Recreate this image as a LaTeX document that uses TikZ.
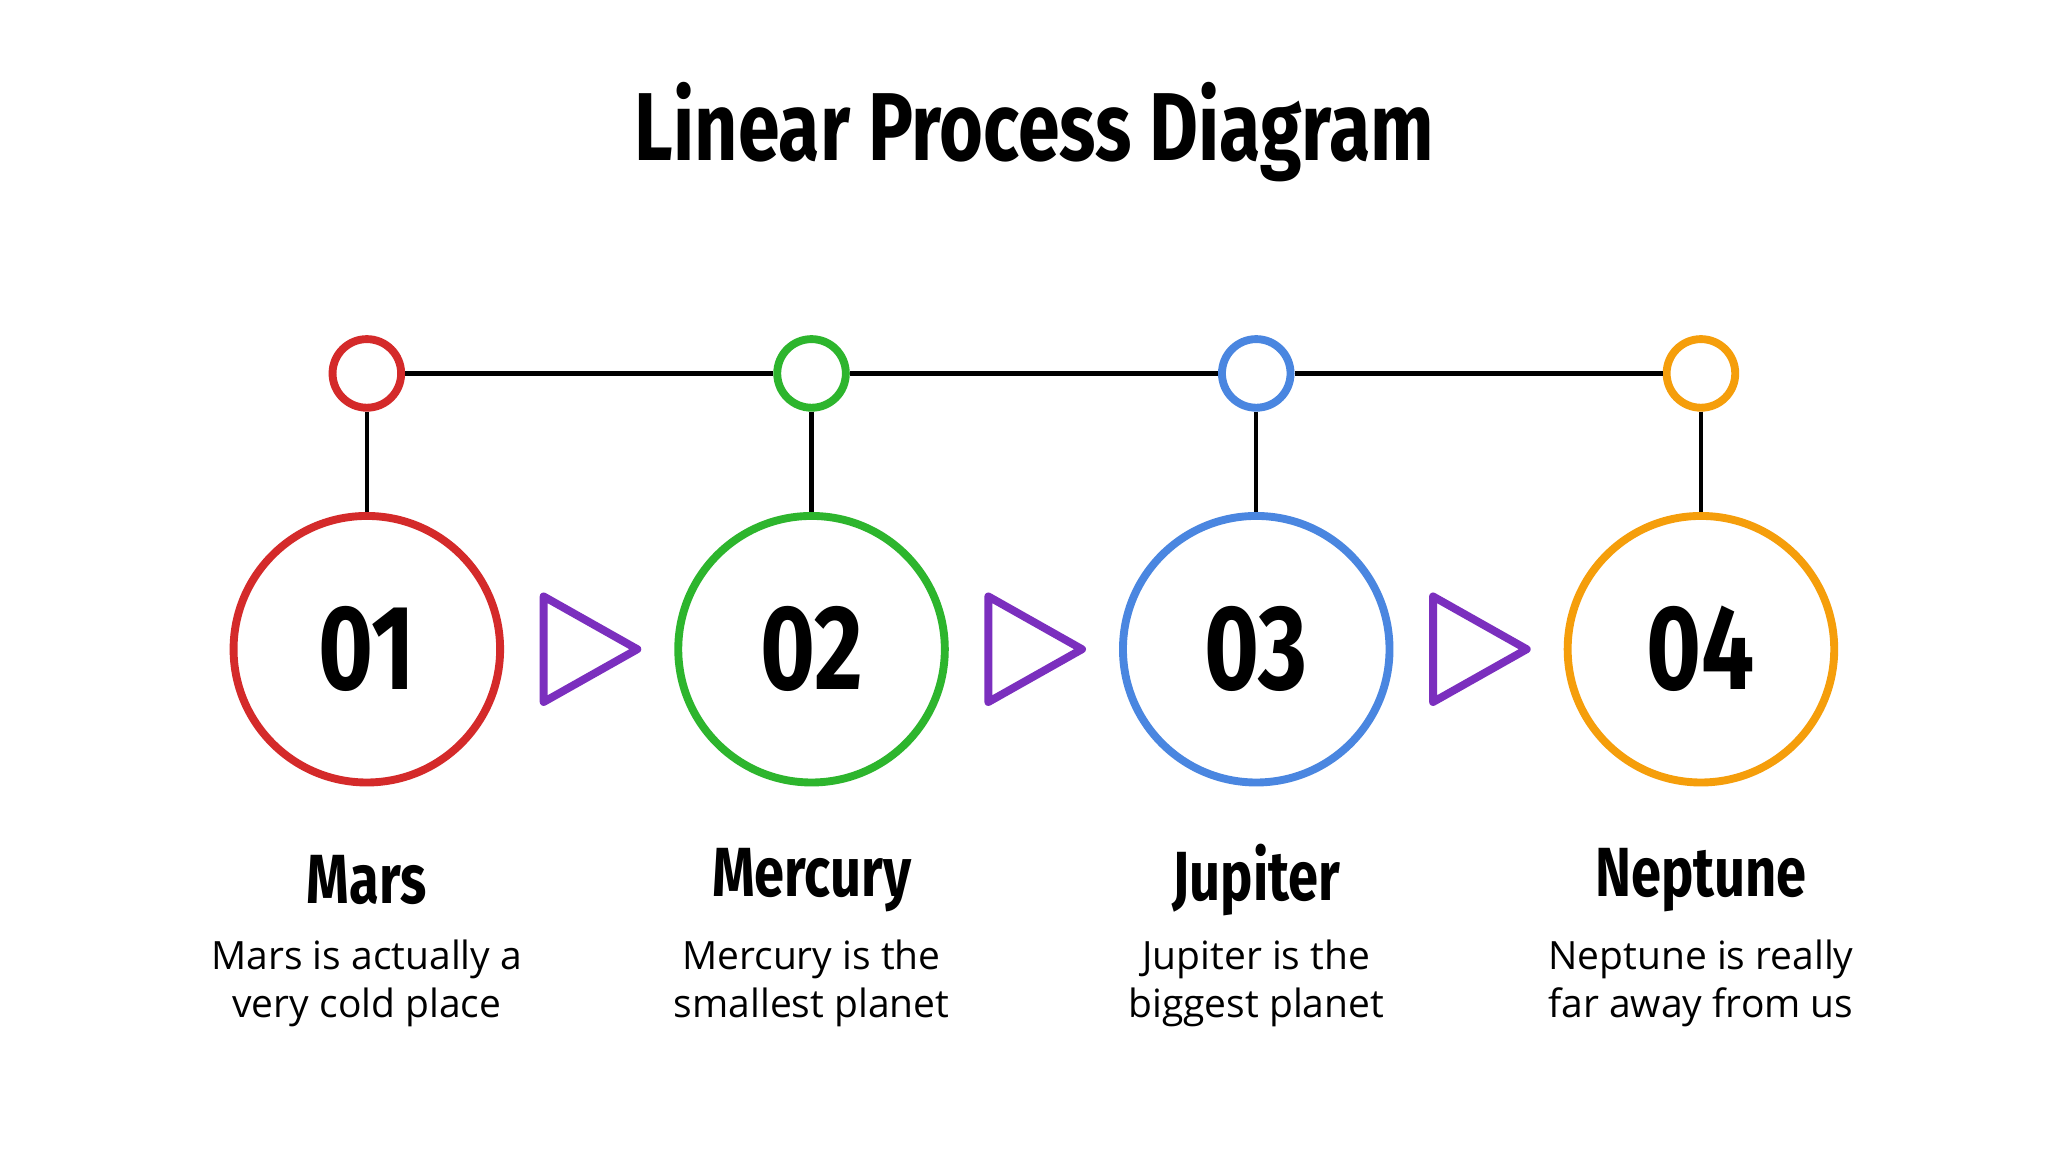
\documentclass[tikz,border=0pt]{standalone}
\usepackage{fontspec}
\setmainfont{Open Sans}
\newfontfamily\headfont[FakeStretch=0.78]{Fira Sans Bold}
\definecolor{cred}{HTML}{D42A2A}
\definecolor{cgreen}{HTML}{2DB52D}
\definecolor{cblue}{HTML}{4A86E0}
\definecolor{corange}{HTML}{F59E0B}
\definecolor{cpurple}{HTML}{7B2FBE}
\begin{document}
\begin{tikzpicture}[
  dotc/.style={circle,draw,line width=1.7pt,minimum size=0.52cm,inner sep=0pt},
  bigc/.style={circle,draw,line width=1.7pt,minimum size=2.02cm,inner sep=0pt,font=\headfont\fontsize{26}{30}\selectfont},
  conn/.style={line width=0.9pt,black},
  tri/.style={draw=cpurple,line width=1.7pt,line join=round},
  pname/.style={font=\headfont\fontsize{15}{18}\selectfont},
  pdesc/.style={font=\fontsize{8.4}{10.3}\selectfont,align=center}]
\useasboundingbox (0,0) rectangle (15.52,-8.73);
\fill[white] (0,0) rectangle (15.52,-8.73);
\node[font=\headfont\fontsize{20.8}{25}\selectfont] (title) at (7.84,-1.0) {Linear Process Diagram};
\foreach \i/\x/\c/\n/\nm/\d in {1/2.78/cred/01/Mars/{Mars is actually a\\very cold place},
  2/6.15/cgreen/02/Mercury/{Mercury is the\\smallest planet},
  3/9.52/cblue/03/Jupiter/{Jupiter is the\\biggest planet},
  4/12.89/corange/04/Neptune/{Neptune is really\\far away from us}}{
  \node[dotc,draw=\c] (d\i) at (\x,-2.83) {};
  \node[bigc,draw=\c] (b\i) at (\x,-4.92) {\n};
  \draw[conn] (d\i) -- (b\i);
  \node[pname] (n\i) at (\x,-6.67) {\nm};
  \node[pdesc] (t\i) at (\x,-7.45) {\d};
}
\draw[conn] (d1) -- (d2);
\draw[conn] (d2) -- (d3);
\draw[conn] (d3) -- (d4);
\foreach \k in {0,1,2}{
  \draw[tri] ({4.12+3.37*\k},-4.52) -- ({4.12+3.37*\k},-5.32) -- ({4.83+3.37*\k},-4.92) -- cycle;
}
\end{tikzpicture}
\end{document}
